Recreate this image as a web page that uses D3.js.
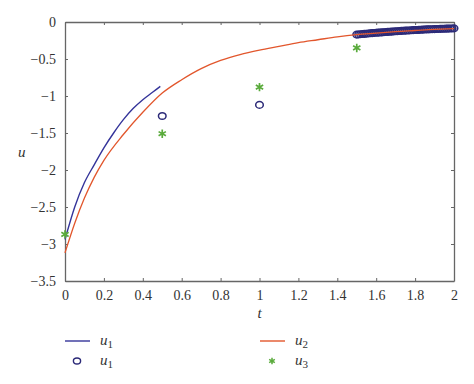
<!DOCTYPE html>
<meta charset="utf-8">
<head>
    <style>
        body { margin: 0; background: #fff; }
        .axis text { font-family: "Liberation Serif", "Times New Roman", Times, serif; font-size: 14px; fill: #333; }
        .axis path, .axis line { stroke: #666; }
        .lbl { font-family: "Liberation Serif", "Times New Roman", Times, serif; font-style: italic; font-size: 15px; fill: #333; }
    </style>
    <script src="https://d3js.org/d3.v7.min.js"></script>
</head>
<body>
<script>

    // u1 line (blue)
    var u1LineT = [0, 0.05, 0.1, 0.15, 0.2, 0.25, 0.3, 0.35, 0.4, 0.45, 0.49];
    var u1LineU = [-2.94, -2.5, -2.17, -1.93, -1.70, -1.50, -1.32, -1.17, -1.05, -0.95, -0.87];

    // u2 line (orange)
    var u2T = [0, 0.05, 0.1, 0.15, 0.2, 0.3, 0.4, 0.5, 0.6, 0.7, 0.8, 0.9, 1.0, 1.1, 1.2, 1.3, 1.4, 1.5, 1.6, 1.7, 1.8, 1.9, 2.0];
    var u2U = [-3.12, -2.72, -2.38, -2.1, -1.87, -1.52, -1.22, -0.96, -0.78, -0.63, -0.52, -0.44, -0.38, -0.33, -0.28, -0.24, -0.20, -0.17, -0.15, -0.13, -0.115, -0.10, -0.09];

    // u1 circles
    var u1DotT = [0.5, 1.0, 1.5, 1.51, 1.52, 1.53, 1.54, 1.55, 1.56, 1.57, 1.58, 1.59, 1.6, 1.61, 1.62, 1.63, 1.64, 1.65, 1.66, 1.67, 1.68, 1.69, 1.7, 1.71, 1.72, 1.73, 1.74, 1.75, 1.76, 1.77, 1.78, 1.79, 1.8, 1.81, 1.82, 1.83, 1.84, 1.85, 1.86, 1.87, 1.88, 1.89, 1.9, 1.91, 1.92, 1.93, 1.94, 1.95, 1.96, 1.97, 1.98, 1.99, 2.0];
    var u1DotU = [-1.27, -1.12, -0.17, -0.168, -0.165, -0.163, -0.16, -0.158, -0.155, -0.153, -0.15, -0.148, -0.146, -0.144, -0.142, -0.14, -0.138, -0.136, -0.134, -0.132, -0.13, -0.128, -0.126, -0.124, -0.122, -0.12, -0.118, -0.117, -0.115, -0.114, -0.112, -0.11, -0.109, -0.108, -0.106, -0.105, -0.103, -0.102, -0.1, -0.099, -0.098, -0.097, -0.096, -0.095, -0.094, -0.093, -0.092, -0.091, -0.09, -0.089, -0.088, -0.087, -0.086];

    // u3 stars (green)
    var u3T = [0, 0.5, 1.0, 1.5];
    var u3U = [-2.87, -1.51, -0.88, -0.35];

    var xTicks = [0, 0.2, 0.4, 0.6, 0.8, 1, 1.2, 1.4, 1.6, 1.8, 2];
    var yTicks = [0, -0.5, -1, -1.5, -2, -2.5, -3, -3.5];

    var width = 474, height = 384;
    var margin = {left: 65, right: 20, top: 22, bottom: 102};

    var svg = d3.select("body").append("svg")
        .attr("width", width)
        .attr("height", height);

    var x = d3.scaleLinear().domain([0, 2]).range([margin.left, 454]);
    var y = d3.scaleLinear().domain([-3.5, 0]).range([281, margin.top]);

    var fmt = function (d) { return d3.format("")(d); };

    // axes, ticks pointing inward
    svg.append("g").attr("class", "axis")
        .attr("transform", "translate(0," + y(-3.5) + ")")
        .call(d3.axisBottom(x).tickValues(xTicks).tickFormat(fmt).tickSizeInner(-3).tickSizeOuter(0).tickPadding(9));
    svg.append("g").attr("class", "axis")
        .attr("transform", "translate(0," + y(0) + ")")
        .call(d3.axisTop(x).tickValues(xTicks).tickFormat("").tickSizeInner(-3).tickSizeOuter(0));
    svg.append("g").attr("class", "axis")
        .attr("transform", "translate(" + x(0) + ",0)")
        .call(d3.axisLeft(y).tickValues(yTicks).tickFormat(fmt).tickSizeInner(-3).tickSizeOuter(0).tickPadding(9));
    svg.append("g").attr("class", "axis")
        .attr("transform", "translate(" + x(2) + ",0)")
        .call(d3.axisRight(y).tickValues(yTicks).tickFormat("").tickSizeInner(-3).tickSizeOuter(0));

    svg.selectAll(".axis").attr("font-family", null).attr("font-size", null);
    svg.selectAll(".axis path").style("stroke-width", 1.3);

    // axis labels
    svg.append("text").attr("class", "lbl").attr("x", 18).attr("y", 157).text("u");
    svg.append("text").attr("class", "lbl").attr("x", x(1)).attr("y", 318)
        .attr("text-anchor", "middle").text("t");

    var line = d3.line()
        .curve(d3.curveMonotoneX)
        .x(function (d) { return x(d[0]); })
        .y(function (d) { return y(d[1]); });

    var blue = "#34349a", orange = "#e2562c", navy = "#2c2a78", green = "#5aab3c";

    svg.append("path")
        .datum(d3.zip(u1LineT, u1LineU))
        .attr("d", line)
        .attr("fill", "none")
        .attr("stroke", blue)
        .attr("stroke-width", 1.4);

    svg.selectAll(".dot")
        .data(d3.zip(u1DotT, u1DotU))
        .enter().append("ellipse")
        .attr("class", "dot")
        .attr("cx", function (d) { return x(d[0]); })
        .attr("cy", function (d) { return y(d[1]); })
        .attr("rx", 3.8)
        .attr("ry", 3.3)
        .attr("fill", "none")
        .attr("stroke", navy)
        .attr("stroke-width", 1.5);

    svg.append("path")
        .datum(d3.zip(u2T, u2U))
        .attr("d", line)
        .attr("fill", "none")
        .attr("stroke", orange)
        .attr("stroke-width", 1.3);

    var star = d3.symbol().type(d3.symbolAsterisk).size(50);
    svg.selectAll(".star")
        .data(d3.zip(u3T, u3U))
        .enter().append("path")
        .attr("class", "star")
        .attr("transform", function (d) { return "translate(" + x(d[0]) + "," + y(d[1]) + ")"; })
        .attr("d", star)
        .attr("fill", "none")
        .attr("stroke", green)
        .attr("stroke-width", 1.7);

    // legend
    var leg = svg.append("g");
    function subLabel(px, py, sub) {
        var t = leg.append("text").attr("class", "lbl").attr("x", px).attr("y", py);
        t.append("tspan").text("u");
        t.append("tspan").attr("dy", 3).style("font-size", "11px").style("font-style", "normal").text(sub);
    }
    leg.append("line").attr("x1", 65).attr("x2", 90).attr("y1", 341).attr("y2", 341)
        .attr("stroke", blue).attr("stroke-width", 1.4);
    subLabel(100, 345, "1");
    leg.append("ellipse").attr("cx", 77).attr("cy", 361).attr("rx", 3.6).attr("ry", 3)
        .attr("fill", "none").attr("stroke", navy).attr("stroke-width", 1.4);
    subLabel(100, 365, "1");
    leg.append("line").attr("x1", 260).attr("x2", 285).attr("y1", 341).attr("y2", 341)
        .attr("stroke", orange).attr("stroke-width", 1.4);
    subLabel(295, 345, "2");
    leg.append("path").attr("transform", "translate(272,361)").attr("d", d3.symbol().type(d3.symbolAsterisk).size(30))
        .attr("fill", "none").attr("stroke", green).attr("stroke-width", 1.5);
    subLabel(295, 365, "3");

</script>
</body>
